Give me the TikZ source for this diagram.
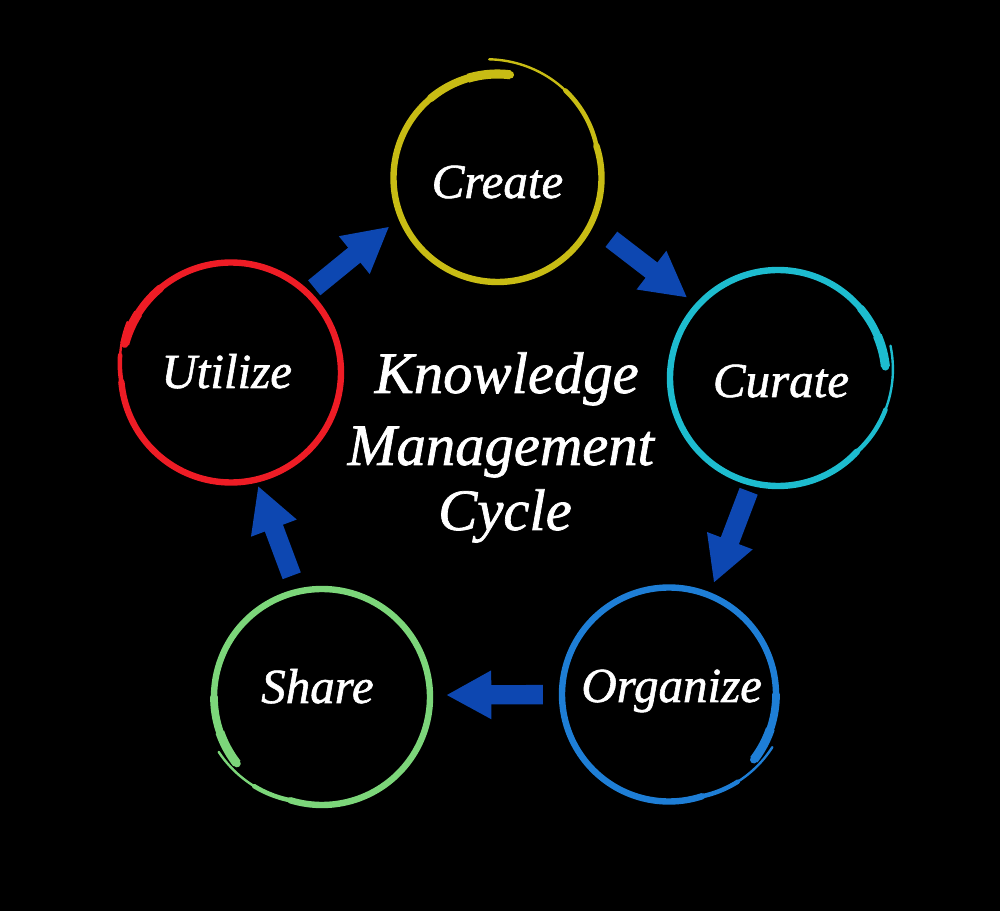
\documentclass[tikz,border=0pt]{standalone}
\usepackage{fontspec}
\setmainfont{Liberation Serif}[ItalicFeatures={FakeBold=1.2}]
\usetikzlibrary{arrows.meta}
\definecolor{ccreate}{HTML}{C8BC14}
\definecolor{ccurate}{HTML}{1DBCCF}
\definecolor{corganize}{HTML}{1E7ED6}
\definecolor{cshare}{HTML}{7CD67A}
\definecolor{cutilize}{HTML}{EE1C25}
\definecolor{arrowblue}{HTML}{0D47B1}
\newcommand\handring[8]{%
  \pgfmathsetmacro\tmid{#5+0.45*(#6-(#5))}%
  \pgfmathsetmacro\kmid{#4+0.5*(#8-(#4))}%
  \begin{scope}[shift={(#1.center)}, color=#2, line join=round]
    \draw[line width=4.8pt, line cap=round] plot[domain=#4:#5, samples=150] (\x:#3);
    \draw[line width=5.8pt, line cap=round] plot[domain=#4:#8, samples=40] (\x:#3);
    \draw[line width=6.8pt] plot[domain=#4:\kmid, samples=30] (\x:#3);
    \draw[line width=1.8pt, line cap=round] plot[domain=#5:#6, samples=60] (\x:{#3+(#7-(#3))*(\x-(#5))/(#6-(#5))});
    \draw[line width=3.4pt, line cap=round] plot[domain=#5:\tmid, samples=30] (\x:{#3+(#7-(#3))*(\x-(#5))/(#6-(#5))});
  \end{scope}}
\begin{document}
\begin{tikzpicture}[x=0.75pt,y=0.75pt,
  ring/.style={circle, inner sep=0pt, outer sep=0pt},
  lbl/.style={text=white, anchor=base, inner sep=0pt, font=\fontsize{36.75}{44}\selectfont\itshape},
  ttl/.style={text=white, anchor=base, inner sep=0pt, font=\fontsize{44}{53}\selectfont\itshape},
  bigarrow/.style={draw=arrowblue, line width=14.5pt, -{Triangle[length=34pt,width=34pt]}}]
  \fill[black] (0,0) rectangle (1000,911);
  \useasboundingbox (0,0) rectangle (1000,911);

  % circle nodes
  \node[ring, minimum size=156pt] (create) at (497.5,733) {};
  \node[ring, minimum size=162pt] (curate) at (778,533) {};
  \node[ring, minimum size=160.5pt] (organize) at (669,216.5) {};
  \node[ring, minimum size=162pt] (share) at (322,214) {};
  \node[ring, minimum size=165pt] (utilize) at (231,538.5) {};

  % hand-drawn rings
  \handring{create}{ccreate}{104}{83}{378}{454}{119}{130}
  \handring{curate}{ccurate}{108}{6}{317}{376}{117}{40}
  \handring{organize}{corganize}{107}{-37.5}{288}{333}{116}{0}
  \handring{share}{cshare}{108}{218}{-107}{-152}{117}{180}
  \handring{utilize}{cutilize}{110}{165}{-175}{-206}{115}{130}

  % labels
  \node[lbl] (createlbl) at (497.5,713) {Create};
  \node[lbl] (curatelbl) at (781,514) {Curate};
  \node[lbl] (organizelbl) at (671.7,209) {Organize};
  \node[lbl] (sharelbl) at (317.5,208) {Share};
  \node[lbl] (utilizelbl) at (226.7,523) {Utilize};

  % title
  \node[ttl] (title1) at (506.7,518) {Knowledge};
  \node[ttl] (title2) at (500.8,446) {Management};
  \node[ttl] (title3) at (505,381) {Cycle};

  % arrows
  \draw[bigarrow, shorten <=6.6pt, shorten >=11.3pt] (utilize.46.7) -- (create.202.2);
  \draw[bigarrow, shorten <=19.3pt, shorten >=9.8pt] (create.-26.1) -- (curate.138);
  \draw[bigarrow, shorten <=6.8pt, shorten >=9.8pt] (curate.256.7) -- (organize.68);
  \draw[bigarrow, shorten <=14.3pt, shorten >=12pt] (organize.180.2) -- (share.1.8);
  \draw[bigarrow, shorten <=12.8pt, shorten >=4.8pt] (share.103.1) -- (utilize.-77.2);
\end{tikzpicture}
\end{document}
